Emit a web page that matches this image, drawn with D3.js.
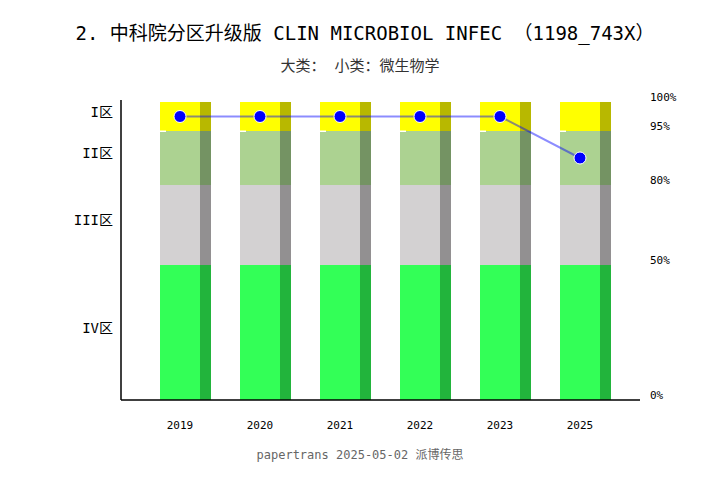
<!DOCTYPE html>
<html><head><meta charset="utf-8">
<script src="https://cdn.jsdelivr.net/npm/d3@7"></script>
<style>body{margin:0;background:#fff}svg{display:block}</style>
</head><body><svg id="c" width="720" height="480"></svg>
<script>
const years = ["2019","2020","2021","2022","2023","2025"];
const zoneNames = ["I区","II区","III区","IV区"];
// zone bounds in percent (top, bottom)
const zoneTop = [100, 95, 80, 50];
const zoneBottom = [95, 80, 50, 0];
const zoneColors = ["#ffff00","#acd291","#d3d1d2","#33ff57"];
const zoneShade = ["#b8b800","#749363","#929091","#22b43c"];
const pctTicks = [100, 95, 80, 50, 0];
const rankZone = [1,1,1,1,1,2]; // zone per year (1 = I区)

const svg = d3.select("#c");
const font = "'DejaVu Sans Mono','Noto Sans CJK SC',monospace";
const x = d3.scaleBand().domain(years).range([140, 620]);
const y = d3.scaleLinear().domain([0,50,80,95,100]).range([400,265,185,131,102]);
const cx = d => x(d) + x.bandwidth()/2;

// bars
years.forEach(yr => {
  zoneNames.forEach((z,i) => {
    svg.append("rect").attr("x", cx(yr)-20).attr("y", y(zoneTop[i]))
      .attr("width", 40).attr("height", y(zoneBottom[i]) - y(zoneTop[i]))
      .attr("fill", zoneColors[i]);
    svg.append("rect").attr("x", cx(yr)+20).attr("y", y(zoneTop[i]))
      .attr("width", 11).attr("height", y(zoneBottom[i]) - y(zoneTop[i]))
      .attr("fill", zoneShade[i]);
  });
  // small white notch at I/II boundary
  svg.append("rect").attr("x", cx(yr)-20).attr("y", y(95)-0.5)
    .attr("width", 6).attr("height", 1.5).attr("fill", "#fff");
});

// axes lines
svg.append("line").attr("x1",121).attr("x2",121).attr("y1",100).attr("y2",400).attr("stroke","#000").attr("stroke-width",1.5);
svg.append("line").attr("x1",121).attr("x2",640).attr("y1",400).attr("y2",400).attr("stroke","#000").attr("stroke-width",1.5);

// zone labels
zoneNames.forEach((z,i) => {
  svg.append("text").attr("x",113).attr("y",(y(zoneTop[i])+y(zoneBottom[i]))/2)
    .attr("text-anchor","end").attr("font-family",font).attr("font-size",14).attr("fill","#000").text(z);
});
// pct labels
pctTicks.forEach(p => {
  svg.append("text").attr("x",650).attr("y",y(p)-1)
    .attr("font-family",font).attr("font-size",11).attr("fill","#000").text(p+"%");
});
// year labels
years.forEach(yr => {
  svg.append("text").attr("x",cx(yr)).attr("y",429).attr("text-anchor","middle")
    .attr("font-family",font).attr("font-size",11).attr("fill","#000").text(yr);
});

// line + points
const pts = years.map((yr,i) => [cx(yr), (y(zoneTop[rankZone[i]-1]) + y(zoneBottom[rankZone[i]-1]))/2]);
svg.append("path").attr("d", d3.line()(pts)).attr("fill","none")
  .attr("stroke","#0000ff").attr("stroke-opacity",0.45).attr("stroke-width",2);
svg.selectAll("circle.p").data(pts).join("circle").attr("class","p")
  .attr("cx",d=>d[0]).attr("cy",d=>d[1]).attr("r",6)
  .attr("fill","#0000ff").attr("stroke","#fff").attr("stroke-width",1);

// titles
svg.append("text").attr("x",365).attr("y",40).attr("text-anchor","middle")
  .attr("font-family",font).attr("font-size",19).attr("fill","#000")
  .text("2. 中科院分区升级版 CLIN MICROBIOL INFEC （1198_743X）");
svg.append("text").attr("x",360).attr("y",71).attr("text-anchor","middle")
  .attr("font-family",font).attr("font-size",15).attr("fill","#333")
  .text("大类：  小类：微生物学");
svg.append("text").attr("x",360).attr("y",459).attr("text-anchor","middle")
  .attr("font-family",font).attr("font-size",12).attr("fill","#666")
  .text("papertrans 2025-05-02 派博传思");
</script></body></html>
